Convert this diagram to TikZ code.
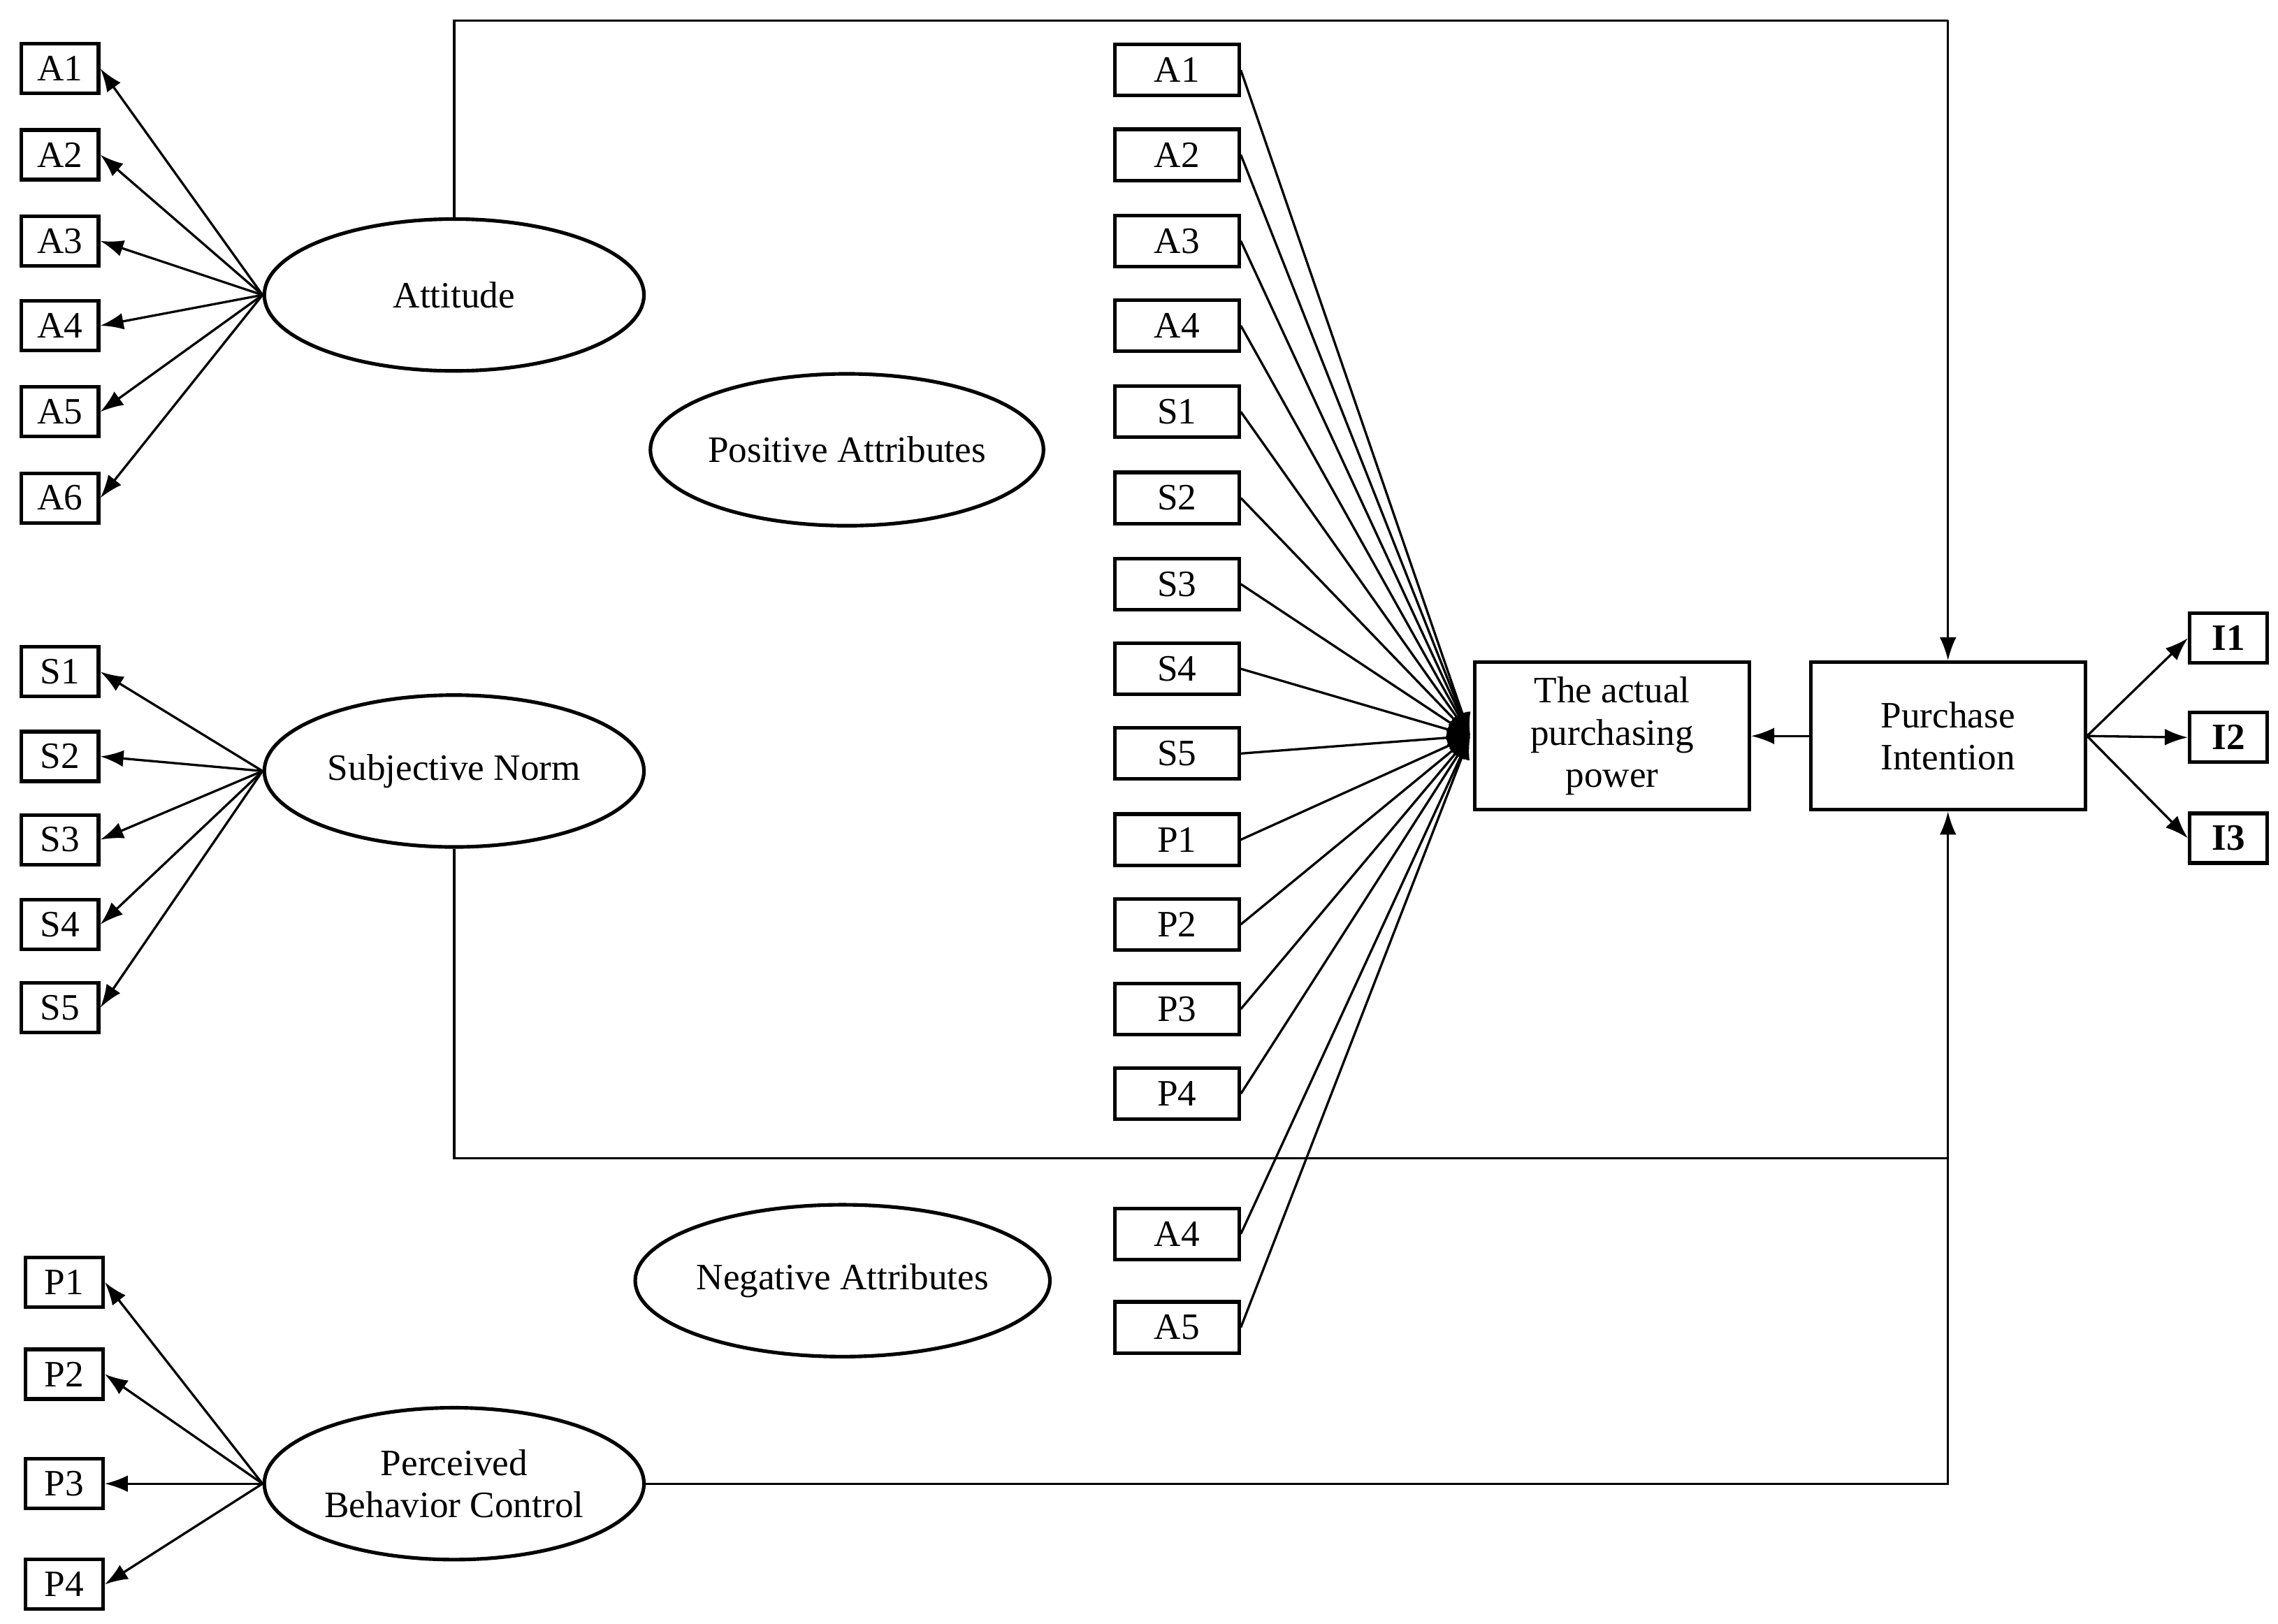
\documentclass[tikz,border=0pt]{standalone}
\usepackage{fontspec}
\setmainfont{Liberation Serif}
\usetikzlibrary{arrows.meta,shapes.geometric}
\begin{document}
\begin{tikzpicture}[x=0.02cm,y=-0.02cm,
 font=\fontsize{14.5}{17}\selectfont,
 ln/.style={line width=0.9pt},
 arr/.style={ln,-{Latex[length=9pt,width=6.5pt]}},
 ib/.style={draw,line width=1.4pt,minimum width=53*0.02cm,minimum height=34*0.02cm,inner sep=0pt},
 mb/.style={draw,line width=1.4pt,minimum width=85*0.02cm,minimum height=35*0.02cm,inner sep=0pt},
 lv/.style={draw,ellipse,line width=1.4pt,minimum width=260*0.02cm,minimum height=104*0.02cm,inner sep=0pt,align=center,font=\fontsize{14.5}{16.5}\selectfont},
 big/.style={draw,line width=1.4pt,minimum width=188*0.02cm,minimum height=101*0.02cm,align=center,inner sep=0pt,font=\fontsize{14.5}{16.5}\selectfont}]
\useasboundingbox (0,0) rectangle (1560,1112);
% latent
\node[lv] (att) at (311,202) {Attitude};
\node[lv] (sn) at (311,528) {Subjective Norm};
\node[lv] (pbc) at (311,1016) {Perceived\\Behavior Control};
\node[lv] (pos) at (580,308) {Positive Attributes};
\node[lv,minimum width=284*0.02cm] (neg) at (577,877) {Negative Attributes};
% left indicators
\foreach \n/\y in {1/47,2/106,3/165,4/223,5/282,6/341}{
 \node[ib] (la\n) at (41,\y) {A\n};
 \draw[arr] (att.west) -- (la\n.east);}
\foreach \n/\y in {1/460,2/518,3/575,4/633,5/690}{
 \node[ib] (ls\n) at (41,\y) {S\n};
 \draw[arr] (sn.west) -- (ls\n.east);}
\foreach \n/\y in {1/878,2/941,3/1016,4/1085}{
 \node[ib] (lp\n) at (44,\y) {P\n};
 \draw[arr] (pbc.west) -- (lp\n.east);}
% boxes
\node[big] (apc) at (1104,504) {The actual\\purchasing\\power};
\node[big] (pi) at (1334,504) {Purchase\\Intention};
\coordinate (conv) at ([xshift=-2*0.02cm]apc.west);
\foreach \t/\y/\k in {A1/48/1,A2/106/2,A3/165/3,A4/223/4,S1/282/5,S2/341/6,S3/400/7,S4/458/8,S5/516/9,P1/575/10,P2/633/11,P3/691/12,P4/749/13,A4/845/14,A5/909/15}{
 \node[mb] (m\k) at (806,\y) {\t};
 \draw[arr] (m\k.east) -- (conv);}
\draw[arr] (pi.west) -- (apc.east);
\foreach \n/\y in {1/437,2/505,3/574}{
 \node[ib] (i\n) at (1526,\y) {\textbf{I\n}};
 \draw[arr] (pi.east) -- (i\n.west);}
% structural paths
\coordinate (tl) at (311,14); \coordinate (tr) at (1334,14);
\coordinate (bl) at (311,793); \coordinate (br) at (1334,793);
\coordinate (pr) at (1334,1016);
\draw[ln] (att.north) -- (tl) -- (tr);
\draw[arr] (tr) -- (pi.north);
\draw[ln] (sn.south) -- (bl) -- (br);
\draw[ln] (pbc.east) -- (pr) -- (br);
\draw[arr] (br) -- (pi.south);
\end{tikzpicture}
\end{document}
